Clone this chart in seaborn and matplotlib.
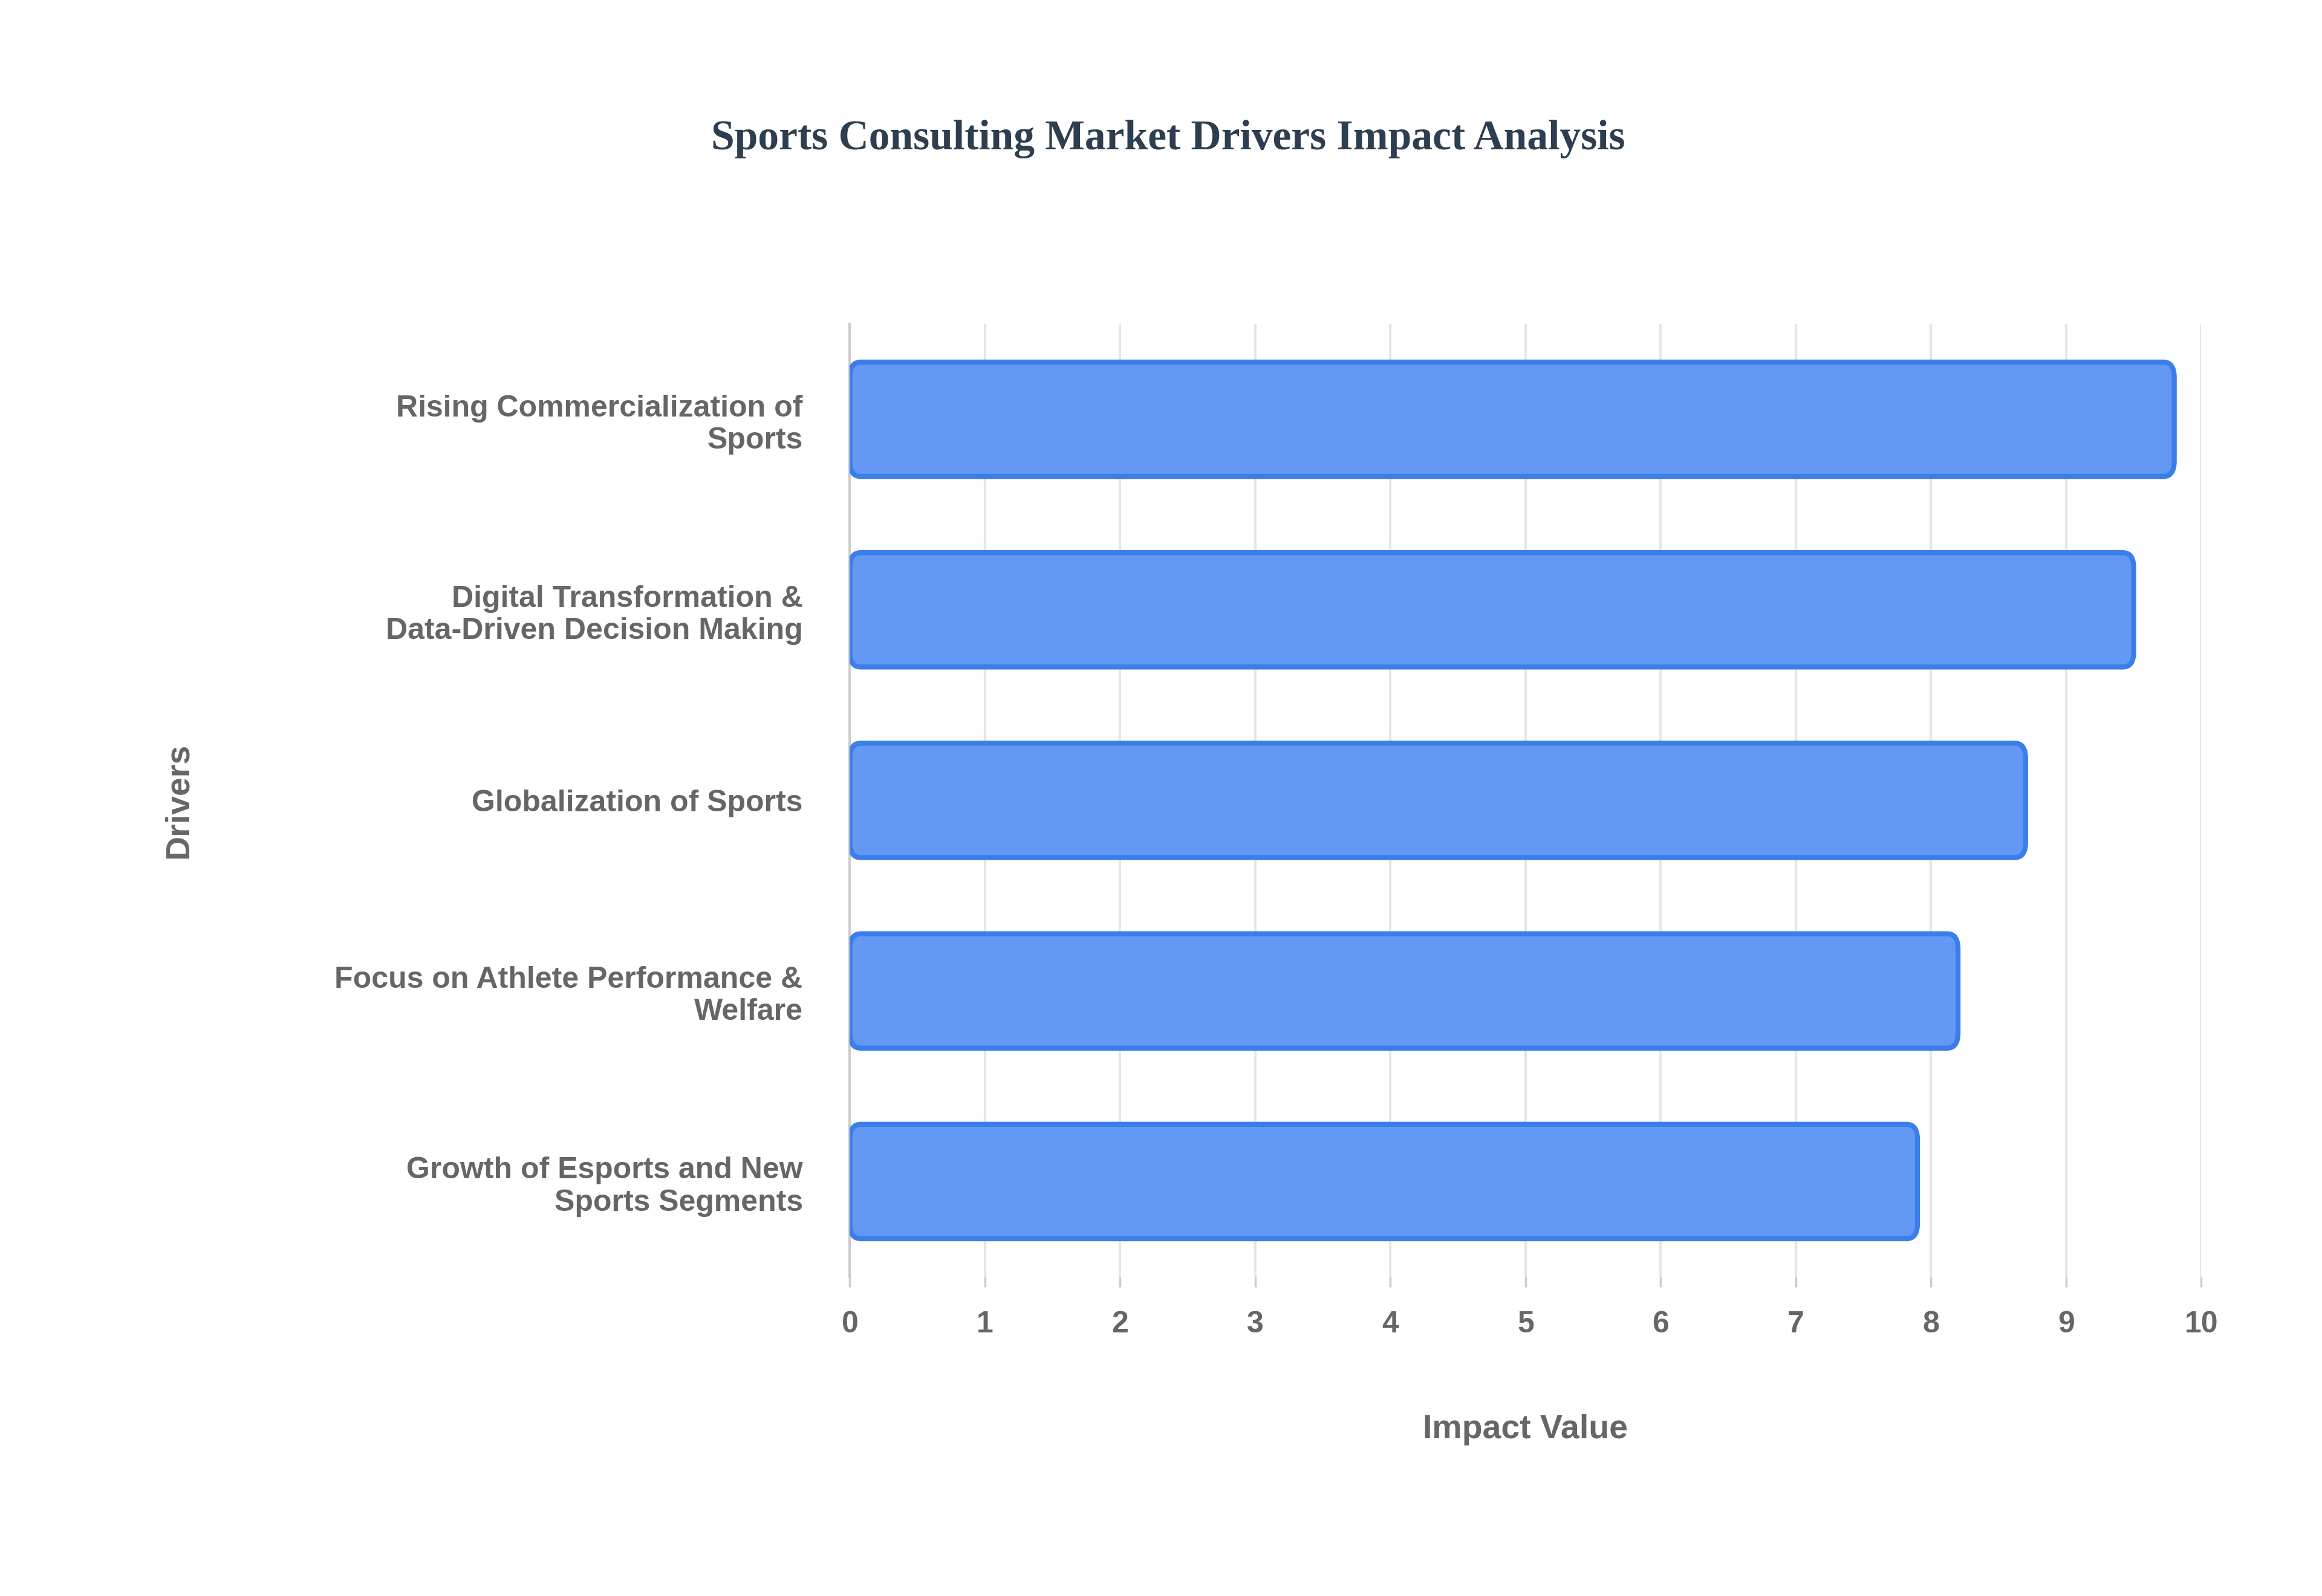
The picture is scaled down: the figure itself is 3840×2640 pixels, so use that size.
import matplotlib
matplotlib.use("Agg")
import matplotlib.pyplot as plt
import seaborn as sns
import pandas as pd
from matplotlib.patches import FancyBboxPatch

drivers = ["Rising Commercialization of\nSports",
           "Digital Transformation &\nData-Driven Decision Making",
           "Globalization of Sports",
           "Focus on Athlete Performance &\nWelfare",
           "Growth of Esports and New\nSports Segments"]
impact = [9.8, 9.5, 8.7, 8.2, 7.9]
ticks = list(range(0, 11))

sns.set_theme(style="white")
plt.rcParams['font.family'] = ['Liberation Sans', 'DejaVu Sans']
df = pd.DataFrame({"Drivers": drivers, "Impact": impact})

fig = plt.figure(figsize=(19.2, 13.2), dpi=200)
ax = fig.add_axes([0.366, 0.2, 0.582, 0.597])
sns.barplot(data=df, y="Drivers", x="Impact", orient="h", width=0.6,
            color="#6399f5", edgecolor="#3b7de9", linewidth=3, ax=ax, zorder=3)
# round the bar corners
for p in list(ax.patches):
    x, y, w, h = p.get_x(), p.get_y(), p.get_width(), p.get_height()
    fb = FancyBboxPatch((x, y), w, h, boxstyle="round,pad=0,rounding_size=0.08",
                        mutation_aspect=1.0, facecolor="#6399f5", edgecolor="#3b7de9",
                        linewidth=3, zorder=3)
    p.remove()
    ax.add_patch(fb)

ax.set_xlim(0, 10)
ax.set_ylim(4.5, -0.5)
ax.set_xticks(ticks)
ax.xaxis.grid(True, color="#e6e6e6", linewidth=1.5, zorder=0)
for s in ["top", "right", "bottom"]:
    ax.spines[s].set_visible(False)
ax.spines["left"].set_color("#cccccc")
ax.spines["left"].set_linewidth(1.5)
ax.tick_params(axis="x", length=6, color="#cccccc", pad=14, bottom=True)
ax.tick_params(axis="y", length=0, pad=28)
for lab in ax.get_xticklabels() + ax.get_yticklabels():
    lab.set_fontsize(18); lab.set_fontweight("bold"); lab.set_color("#666666")
ax.set_xlabel("Impact Value", fontsize=20, fontweight="bold", color="#666666", labelpad=45)
ax.set_ylabel("Drivers", fontsize=20, fontweight="bold", color="#666666")
ax.yaxis.set_label_coords(-0.485, 0.5)
fig.text(0.503, 0.913, "Sports Consulting Market Drivers Impact Analysis",
         ha="center", va="center", fontsize=25, fontweight="bold", color="#2c3e50",
         family=["Liberation Serif", "DejaVu Serif"])
fig.savefig("out.png", dpi=200, facecolor="white")
